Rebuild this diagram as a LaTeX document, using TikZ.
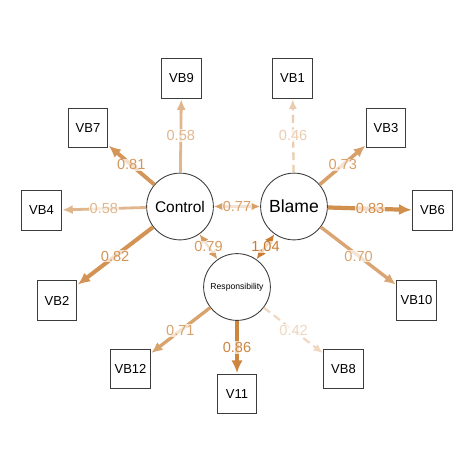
\documentclass[tikz,border=0pt]{standalone}
\usepackage{fontspec}
\setmainfont{Liberation Sans}
\usetikzlibrary{arrows.meta}
\definecolor{edge1}{HTML}{C97B2F}
\definecolor{rim1}{HTML}{3C3C3C}

\tikzset{
  latent/.style={circle,draw=rim1,line width=0.5pt,fill=white,minimum size=38pt,inner sep=0pt},
  manifest/.style={rectangle,draw=rim1,line width=0.5pt,fill=white,minimum size=22.4pt,inner sep=0pt,font=\fontsize{7.4}{8}\selectfont},
  load/.style 2 args={draw=edge1!#1,line width=#2,-{Latex[length=3.4pt 1.6,width=2.8pt 1.5]},shorten >=0.4pt},
  cov/.style 2 args={draw=edge1!#1,line width=#2,{Latex[length=3.2pt 1.6,width=2.8pt 1.5]}-{Latex[length=3.2pt 1.6,width=2.8pt 1.5]}},
  elab/.style={midway,fill=white,fill opacity=0.7,text opacity=1,text=edge1!#1,inner sep=0.6pt,font=\fontsize{8.3}{9}\selectfont}
}

\begin{document}
\begin{tikzpicture}[x=0.02cm,y=-0.02cm]

\useasboundingbox[fill=white] (0,0) rectangle (474,474);

% latent variables
\node[latent,font=\fontsize{8.8}{10}\selectfont] (ctrl) at (180,206.5) {Control};
\node[latent,font=\fontsize{10}{11}\selectfont] (blame) at (294,206.5) {Blame};
\node[latent,font=\fontsize{4.9}{5}\selectfont] (resp) at (237,287) {Responsibility};

% indicators
\node[manifest] (vb9) at (181.5,78.5) {VB9};
\node[manifest] (vb7) at (88,128) {VB7};
\node[manifest] (vb4) at (41.5,210.5) {VB4};
\node[manifest] (vb2) at (57,300.5) {VB2};
\node[manifest] (vb1) at (292.5,78.5) {VB1};
\node[manifest] (vb3) at (386,128) {VB3};
\node[manifest] (vb6) at (432.5,210.5) {VB6};
\node[manifest] (vb10) at (416.5,300.5) {VB10};
\node[manifest] (vb12) at (130.5,369) {VB12};
\node[manifest] (v11) at (237,394) {V11};
\node[manifest] (vb8) at (343.5,369) {VB8};

% loadings of Control
\draw[load={55}{1.6pt}] (ctrl) -- node[elab=55] {0.58} (vb9);
\draw[load={80}{2.2pt}] (ctrl) -- node[elab=80] {0.81} (vb7);
\draw[load={55}{1.6pt}] (ctrl) -- node[elab=55] {0.58} (vb4);
\draw[load={82}{2.3pt}] (ctrl) -- node[elab=82] {0.82} (vb2);

% loadings of Blame
\draw[load={38}{1.3pt},dash pattern=on 4.5pt off 2.6pt] (blame) -- node[elab=38] {0.46} (vb1);
\draw[load={72}{2pt}] (blame) -- node[elab=72] {0.73} (vb3);
\draw[load={85}{2.4pt}] (blame) -- node[elab=85] {0.83} (vb6);
\draw[load={68}{1.9pt}] (blame) -- node[elab=68] {0.70} (vb10);

% loadings of Responsibility
\draw[load={70}{1.9pt}] (resp) -- node[elab=70] {0.71} (vb12);
\draw[load={92}{2.4pt}] (resp) -- node[elab=92] {0.86} (v11);
\draw[load={30}{1.2pt},dash pattern=on 4.5pt off 2.6pt] (resp) -- node[elab=30] {0.42} (vb8);

% covariances
\draw[cov={72}{1.3pt}] (ctrl) -- node[elab=72] {0.77} (blame);
\draw[cov={76}{1.3pt}] (ctrl) -- node[elab=76] {0.79} (resp);
\draw[cov={100}{1.5pt}] (blame) -- node[elab=100] {1.04} (resp);

\end{tikzpicture}
\end{document}
